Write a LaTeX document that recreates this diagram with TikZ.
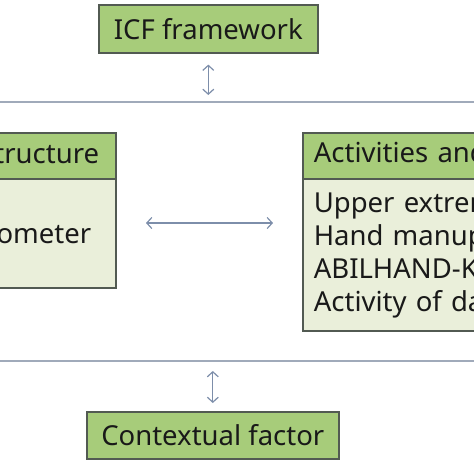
\documentclass[tikz,border=0pt]{standalone}
\usepackage{fontspec}
\setmainfont{Noto Sans}
\usetikzlibrary{arrows.meta,positioning}
\definecolor{headgreen}{RGB}{167,204,122}
\definecolor{bodygreen}{RGB}{234,239,218}
\definecolor{edgegray}{RGB}{82,90,82}
\definecolor{framegray}{RGB}{160,170,186}
\definecolor{arrowblue}{RGB}{125,142,170}

\begin{document}
\begin{tikzpicture}[x=1pt, y=-1pt,
  head/.style={draw=edgegray, line width=1.6pt, fill=headgreen, minimum height=46pt, font=\fontsize{27.5}{33}\selectfont, text=black!90},
  body/.style={draw=edgegray, line width=1.6pt, fill=bodygreen, font=\fontsize{27.5}{33}\selectfont, text=black!90},
  biarrow/.style={draw=arrowblue, line width=1.2pt, {Straight Barb[length=5pt,width=11pt]}-{Straight Barb[length=5pt,width=11pt]}}
]
\clip (0,0) rectangle (474,474);
% outer frame of the three components
\node[draw=framegray, line width=2pt, minimum width=540pt, minimum height=259pt, anchor=north west] (frame) at (-30,101) {};
\node[head, minimum width=219pt, minimum height=48pt, anchor=north west] (icf) at (98,4) {ICF framework};
\node[head, minimum width=252pt, minimum height=47pt, anchor=north west] (ctx) at (86,411) {Contextual factor};
% left component
\node[head, anchor=north east, text width=500pt, align=right, inner xsep=17pt] (lhead) at (117,132) {Body function and structure};
\node[body, anchor=north east, text width=500pt, align=right, inner xsep=25pt, minimum height=109pt] (lbody) at (117,178) {Goniometer};
% right component
\node[head, anchor=north west, text width=500pt, align=left, inner xsep=11pt] (rhead) at (302,132) {Activities and participation};
\node[body, anchor=north west, text width=500pt, align=left, inner xsep=11pt, minimum height=152pt] (rbody) at (302,178) {Upper extremity function\\Hand manupulation\\ABILHAND-Kids\\Activity of daily living};
\coordinate (mid) at (0,223);
\draw[biarrow, shorten <=11pt, shorten >=6pt] (icf.south) -- (icf.south |- frame.north);
\draw[biarrow, shorten <=29pt, shorten >=29pt] (lbody.east |- mid) -- (rbody.west |- mid);
\draw[biarrow, shorten <=9pt, shorten >=8pt] (frame.south -| ctx.north) -- (ctx.north);
\end{tikzpicture}
\end{document}
